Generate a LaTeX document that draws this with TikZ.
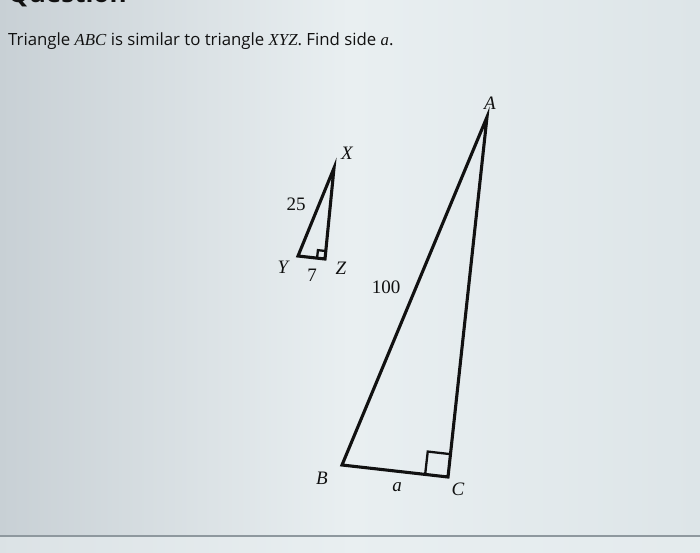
\documentclass[tikz,border=0pt]{standalone}
\usepackage{fontspec}
\setmainfont{Liberation Serif}
\newfontfamily\qfont{Open Sans}
\usepackage{tikz}
\usetikzlibrary{calc,positioning}
\definecolor{paper}{HTML}{DDE5E8}
\definecolor{paperl}{HTML}{C8D0D5}
\definecolor{paperm}{HTML}{E9EFF1}
\definecolor{rule}{HTML}{8E989E}
\definecolor{ink}{HTML}{111111}
\tikzset{
  side/.style={draw=ink, line width=3.1pt, line join=miter},
  sq/.style={draw=ink, line width=2.3pt},
  lab/.style={text=ink, font=\fontsize{19}{21}\selectfont\itshape, inner sep=0pt},
  num/.style={text=ink, font=\fontsize{19}{21}\selectfont, inner sep=0pt},
  qtext/.style={text=ink, font=\qfont\fontsize{16.8}{19}\selectfont, inner sep=0pt},
}
\newcommand\mv[1]{{\rmfamily\itshape #1}}

\begin{document}
\begin{tikzpicture}[x=1pt,y=-1pt]
% paper
\shade[left color=paperl, right color=paper, middle color=paperm] (0,0) rectangle (700,553);
\useasboundingbox (0,0) rectangle (700,553);
\draw[rule, line width=1.2pt] (0,536) -- (700,536);
\fill[paperm, opacity=0.6] (0,537) rectangle (700,553);

% heading
\node[qtext, anchor=base west, font=\qfont\bfseries\fontsize{26}{30}\selectfont] (head) at (8,2.5) {Question};
\node[qtext, anchor=base west] (task) at (8,46)
  {Triangle \mv{ABC} is similar to triangle \mv{XYZ}. Find side \mv{a}.};

% small triangle
\coordinate (X) at (334,168);
\coordinate (Y) at (298,256);
\coordinate (Z) at (325,259);
\draw[sq] ($(Z)!8pt!(Y)$) -- ($($(Z)!8pt!(Y)$)!8pt!90:(Z)$) -- ($(Z)!8pt!(X)$);
\draw[side] (X) -- (Y) -- (Z) -- cycle;

% big triangle
\coordinate (A) at (487,117);
\coordinate (B) at (342,465);
\coordinate (C) at (448,477);
\draw[sq] ($(C)!23pt!(B)$) -- ($($(C)!23pt!(B)$)!23pt!90:(C)$) -- ($(C)!23pt!(A)$);
\draw[side] (A) -- (B) -- (C) -- cycle;

% labels
\node[lab] (lX) at (347,153) {X};
\node[lab] (lY) at (283,267) {Y};
\node[lab] (lZ) at (341,268) {Z};
\node[num] (l25) at (296,204) {25};
\node[num] (l7) at (312,275) {7};
\node[lab] (lA) at (490,103) {A};
\node[lab] (lB) at (322,478) {B};
\node[lab] (lC) at (458,489) {C};
\node[lab] (la) at (397,487) {a};
\node[num] (l100) at (386,287) {100};
\end{tikzpicture}
\end{document}
